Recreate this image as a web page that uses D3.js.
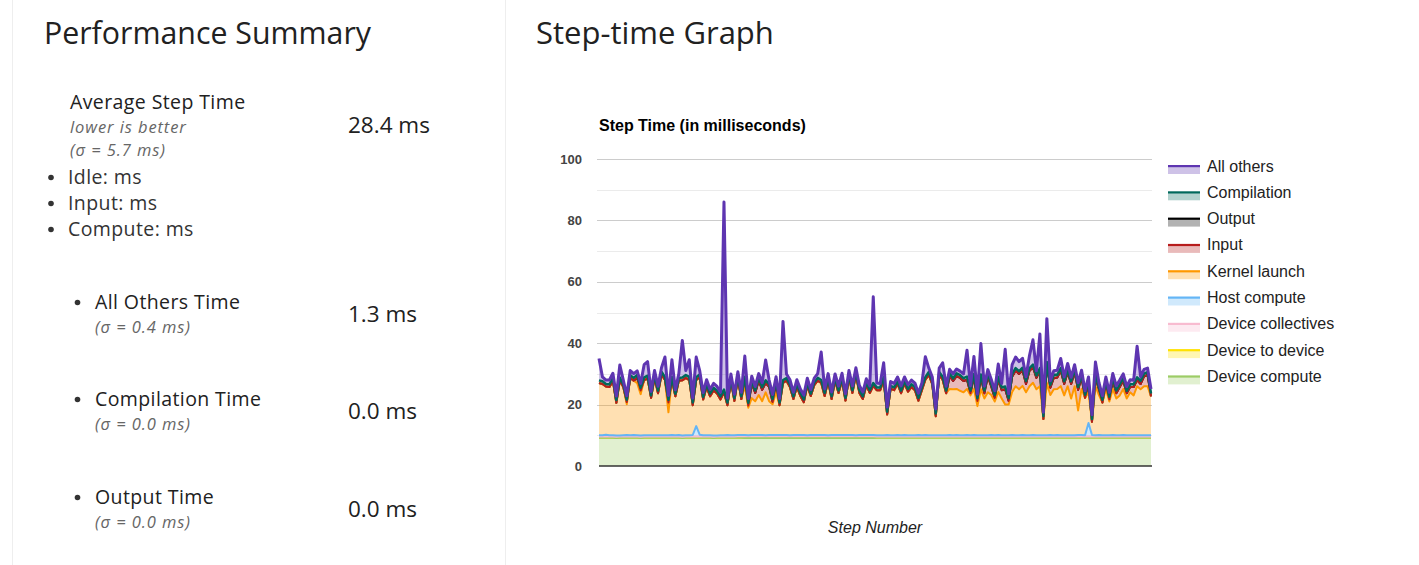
<html>
<head>
<meta charset="UTF-8">
<title>Step-time Graph</title>
<script src="https://d3js.org/d3.v7.min.js"></script>
<style>
html,body{margin:0;padding:0;background:#fff;}
svg{display:block;}
.seg{font-family:"Open Sans","Noto Sans",sans-serif;}
.ar{font-family:"Liberation Sans",Arial,sans-serif;}
</style>
</head>
<body>
<div id="container"></div>
<script>
// ---- data (ms per step) ----
const deviceCompute = [
9.2,9.2,9.3,9.2,9.2,9.1,9.2,9.2,9.3,9.2,9.2,9.2,9.1,9.2,9.2,9.3,9.2,9.2,9.2,9.2,
9.2,9.3,9.2,9.2,9.1,9.2,9.2,9.2,9.2,9.3,9.2,9.2,9.2,9.1,9.2,9.2,9.2,9.3,9.2,9.2,
9.2,9.2,9.1,9.1,9.1,9.2,9.1,9.1,9.1,9.2,9.1,9.1,9.1,9.1,9.2,9.1,9.1,9.1,9.1,9.1,
9.1,9.1,9.2,9.1,9.1,9.1,9.1,9.1,9.2,9.1,9.1,9.1,9.1,9.1,9.1,9.2,9.1,9.1,9.1,9.1,
9.2,9.2,9.2,9.3,9.2,9.2,9.2,9.2,9.3,9.2,9.2,9.2,9.2,9.2,9.3,9.2,9.2,9.2,9.2,9.2,
9.2,9.3,9.2,9.2,9.2,9.2,9.3,9.2,9.2,9.2,9.2,9.2,9.2,9.3,9.2,9.2,9.2,9.2,9.2,9.3,
9.2,9.2,9.2,9.2,9.2,9.3,9.2,9.2,9.2,9.2,9.2,9.2,9.3,9.2,9.2,9.2,9.2,9.2,9.2,9.3,
9.2,9.2,9.2,9.2,9.3,9.2,9.2,9.2,9.2,9.2,9.2,9.3,9.2,9.2,9.2,9.2,9.2,9.2,9.2,9.2];
const deviceToDevice = [
0,0,0,0,0,0,0,0,0,0,0,0,0,0,0,0,0,0,0,0,
0,0,0,0,0,0,0,0,0,0,0,0,0,0,0,0,0,0,0,0,
0,0,0,0,0,0,0,0,0,0,0,0,0,0,0,0,0,0,0,0,
0,0,0,0,0,0,0,0,0,0,0,0,0,0,0,0,0,0,0,0,
0,0,0,0,0,0,0,0,0,0,0,0,0,0,0,0,0,0,0,0,
0,0,0,0,0,0,0,0,0,0,0,0,0,0,0,0,0,0,0,0,
0,0,0,0,0,0,0,0,0,0,0,0,0,0,0,0,0,0,0,0,
0,0,0,0,0,0,0,0,0,0,0,0,0,0,0,0,0,0,0,0];
const deviceCollectives = [
0.4,0.4,0.4,0.4,0.4,0.4,0.4,0.4,0.4,0.4,0.4,0.4,0.4,0.4,0.4,0.4,0.4,0.4,0.4,0.4,
0.4,0.4,0.4,0.4,0.4,0.4,0.4,0.4,0.4,0.4,0.4,0.4,0.4,0.4,0.4,0.4,0.4,0.4,0.4,0.4,
0.5,0.5,0.6,0.6,0.6,0.5,0.6,0.6,0.6,0.5,0.6,0.6,0.6,0.6,0.5,0.6,0.6,0.6,0.6,0.6,
0.6,0.6,0.5,0.6,0.6,0.6,0.6,0.6,0.5,0.6,0.6,0.6,0.6,0.6,0.6,0.5,0.6,0.6,0.6,0.6,
0.4,0.4,0.4,0.4,0.4,0.4,0.4,0.4,0.4,0.4,0.4,0.4,0.4,0.4,0.4,0.4,0.4,0.4,0.4,0.4,
0.4,0.4,0.4,0.4,0.4,0.4,0.4,0.4,0.4,0.4,0.4,0.4,0.4,0.4,0.4,0.4,0.4,0.4,0.4,0.4,
0.4,0.4,0.4,0.4,0.4,0.4,0.4,0.4,0.4,0.4,0.4,0.4,0.4,0.4,0.4,0.4,0.4,0.4,0.4,0.4,
0.4,0.4,0.4,0.4,0.4,0.4,0.4,0.4,0.4,0.4,0.4,0.4,0.4,0.4,0.4,0.4,0.4,0.4,0.4,0.4];
const hostCompute = [
0.4,0.4,0.5,0.4,0.4,0.4,0.3,0.4,0.4,0.4,0.5,0.4,0.4,0.4,0.4,0.3,0.4,0.4,0.4,0.4,
0.4,0.4,0.4,0.5,0.4,0.4,0.4,0.5,3.4,0.5,0.4,0.4,0.4,0.4,0.3,0.4,0.4,0.4,0.4,0.4,
0.4,0.4,0.4,0.3,0.4,0.4,0.4,0.4,0.3,0.4,0.4,0.4,0.4,0.4,0.4,0.3,0.4,0.4,0.4,0.4,
0.3,0.4,0.4,0.4,0.4,0.4,0.3,0.4,0.4,0.4,0.4,0.4,0.4,0.4,0.3,0.4,0.4,0.4,0.4,0.4,
0.4,0.4,0.4,0.4,0.4,0.4,0.5,0.4,0.4,0.4,0.4,0.4,0.5,0.4,0.4,0.4,0.4,0.4,0.4,0.4,
0.4,0.4,0.4,0.5,0.4,0.4,0.4,0.4,0.5,0.4,0.4,0.4,0.4,0.4,0.4,0.5,0.4,0.4,0.4,0.4,
0.4,0.4,0.5,0.4,0.4,0.4,0.4,0.4,0.4,0.4,0.5,0.4,0.4,0.4,0.4,0.4,0.4,0.4,0.5,0.4,
0.4,4.4,0.5,0.4,0.4,0.4,0.4,0.4,0.5,0.4,0.4,0.4,0.4,0.4,0.4,0.4,0.4,0.4,0.4,0.4];
const kernelLaunch = [
17,16.7,15.7,15.7,17.7,10.7,18,15.7,10,18.7,17.7,17,13.5,18,18.5,12.2,18.7,13.7,19.7,18,
7.5,18,12.7,17.7,18,18.7,18,9.7,15,18.7,11.7,15.7,12.7,14.7,13.7,11.7,14,9.7,17.7,11.2,
18.3,11.7,16,9,12,11,13,11,14,11,10,14,9.7,17,17.7,15.7,11.7,15.7,12.7,10.7,
16.2,12.7,16.2,17.7,17,12.7,17.7,11.7,17.7,13.7,17.7,11.2,18.7,13.7,19.7,13.7,11.7,16.2,13.7,16,
14.7,14.7,18,6.7,15.2,14.7,16.7,13.7,16.7,14.2,15.7,14.7,11.2,14.7,18,19.7,16.7,6.2,19.7,18,
13.7,15,15,15,14.5,14,15,13,15,9.5,15,12,14,13,11,14,12,10,10,14,
16,15,16,14,16,17,15,16,5.3,17,13,15,15,16,13,16,12,16,8,15,
12.2,10,4.3,16,13,10.7,15,11,15,12,13,15,12,14,13,16,15,16,16,12.7];
const input = [
0,0,0,0,0,0,0,0,0.7,0,0,1.7,1.2,0,0,0,0,0,0,0,
3.2,0,0,0,0,0,0,0,0,0,0,0,0,0,0,0,0,0,0,0,
0,0,2,0.7,4.7,2.7,4.7,3.7,3,4.7,0.7,2.7,0,0,0,0,0,0,0,0,
0,0,0,0,0,0,0,0,0,0,0,0,0,0,0,0,0,0,0,0,
0,0,0,0,0,0,0,0,0,0,0,0,0,0,0,0,0,0,0,0,
0,4.2,2.7,4.2,4.2,3.7,3,0.7,4,1.7,4,1.7,5.2,2.7,1.2,4,2.7,5,1.2,5,
5,5,5,2.7,5,5,3.7,5,0,6,2.4,3.7,3.7,5,3.7,4.5,4.7,4.5,6.7,3.7,
0,2.7,0,3,1.7,0,1.7,0.7,2.7,1.7,2.7,2.7,1.7,1.7,2.7,2,1.7,3.2,3.7,0];
const output = [
0,0,0,0,0,0,0,0,0,0,0,0,0,0,0,0,0,0,0,0,
0,0,0,0,0,0,0,0,0,0,0,0,0,0,0,0,0,0,0,0,
0,0,0,0,0,0,0,0,0,0,0,0,0,0,0,0,0,0,0,0,
0,0,0,0,0,0,0,0,0,0,0,0,0,0,0,0,0,0,0,0,
0,0,0,0,0,0,0,0,0,0,0,0,0,0,0,0,0,0,0,0,
0,0,0,0,0,0,0,0,0,0,0,0,0,0,0,0,0,0,0,0,
0,0,0,0,0,0,0,0,0,0,0,0,0,0,0,0,0,0,0,0,
0,0,0,0,0,0,0,0,0,0,0,0,0,0,0,0,0,0,0,0];
const compilation = [
0.9,0.9,0.8,0.9,1.0,0.9,0.9,0.9,0.8,0.9,0.9,1.0,0.9,0.9,0.9,0.8,0.9,0.9,1.0,0.9,
0.9,0.9,0.8,0.9,0.9,0.9,1.0,0.9,0.9,0.9,0.8,0.9,0.9,0.9,0.9,1.0,0.9,0.9,0.8,0.9,
0.9,0.9,1.0,0.9,0.9,0.8,0.9,0.9,0.9,0.9,1.0,0.9,0.9,0.9,0.8,0.9,0.9,0.9,1.0,0.9,
0.9,0.8,0.9,0.9,0.9,1.0,0.9,0.9,0.9,0.8,0.9,0.9,0.9,0.9,1.0,0.9,0.9,0.8,0.9,0.9,
0.9,0.9,1.0,0.9,0.9,0.9,0.8,0.9,0.9,0.9,0.9,1.0,0.9,0.9,0.8,0.9,0.9,0.9,0.9,1.0,
0.9,0.9,0.8,0.9,0.9,0.9,1.0,0.9,0.9,0.9,0.8,0.9,0.9,0.9,0.9,1.0,0.9,0.9,0.9,0.8,
0.9,0.9,0.9,1.0,0.9,0.9,0.8,0.9,0.9,0.9,0.9,1.0,0.9,0.9,0.9,0.8,0.9,0.9,0.9,0.9,
1.0,0.9,0.9,0.8,0.9,0.9,0.9,0.9,1.0,0.9,0.9,0.9,0.8,0.9,0.9,0.9,1.0,0.9,0.9,0.9];
const allOthers = [
7.1,1.4,1.3,1.4,1.5,1.3,4.1,1.4,1.3,1.5,1.4,1.3,1.4,4.1,4.6,1.3,1.5,1.4,1.3,6.6,
1.4,5.6,1.3,1.4,12.1,1.5,5.6,1.4,6.6,1.3,1.4,1.5,1.3,1.4,1.4,1.3,61.1,1.4,1.5,1.3,
1.4,1.3,6.7,1.4,1.5,1.3,1.4,1.4,6.6,1.3,1.5,1.4,1.3,19.1,1.4,1.5,1.3,1.4,1.3,1.4,
1.5,1.3,1.4,1.4,9.1,1.3,1.5,1.4,1.3,1.4,1.5,1.3,1.4,1.4,1.3,1.5,1.4,1.3,1.4,28.1,
1.4,1.3,4.6,1.5,1.4,1.3,1.4,1.5,1.3,1.4,1.4,1.3,1.5,1.4,6.7,1.3,1.4,1.5,1.3,4.6,
1.4,1.3,1.5,1.4,1.3,1.4,8.6,1.5,5.7,1.3,10.1,1.4,1.3,1.5,1.4,4.1,1.3,12.1,1.4,3.1,
3.6,3.1,3.1,1.4,4.1,8.1,1.5,11.1,1.3,14.1,1.4,1.3,1.5,3.1,1.4,2.1,1.3,1.6,1.4,1.5,
1.3,1.4,1.4,4.1,1.5,1.3,1.4,1.4,1.3,1.5,1.4,1.3,1.4,1.5,1.3,10.1,1.4,1.4,1.3,1.5];

const seriesNames = ["Device compute","Device to device","Device collectives","Host compute",
  "Kernel launch","Input","Output","Compilation","All others"];
const seriesValues = [deviceCompute,deviceToDevice,deviceCollectives,hostCompute,
  kernelLaunch,input,output,compilation,allOthers];
const seriesColors = ["#9ccc65","#ffe100","#f8bbd0","#64b5f6","#ff9800","#b71c1c","#000000","#00695c","#5e35b1"];
const yTicks = [0,20,40,60,80,100];

const W = 1419, H = 565;
const svg = d3.select("#container").append("svg").attr("width", W).attr("height", H);

// ---- left: Performance Summary ----
svg.append("line").attr("x1",12.5).attr("x2",12.5).attr("y1",0).attr("y2",H).attr("stroke","#eeeeee");
svg.append("line").attr("x1",505.5).attr("x2",505.5).attr("y1",0).attr("y2",H).attr("stroke","#eeeeee");

function txt(x, y, s, size, opts) {
  opts = opts || {};
  return svg.append("text").attr("class","seg").attr("x",x).attr("y",y)
    .attr("font-size",size).attr("fill",opts.fill || "#212121")
    .attr("letter-spacing",opts.ls || null)
    .attr("font-style",opts.italic ? "italic" : null).text(s);
}
function bullet(x, y) {
  svg.append("circle").attr("cx",x).attr("cy",y).attr("r",2.8).attr("fill","#333");
}
const body = 19.5, small = 16.5, big = 22.5;
const note = {italic:true, fill:"#666", ls:0.9};

txt(44, 44, "Performance Summary", 30.3);
txt(70, 109, "Average Step Time", body, {ls:0.4});
txt(70, 132.5, "lower is better", small, note);
txt(70, 155.5, "(σ = 5.7 ms)", small, note);
txt(348, 133, "28.4 ms", big);
[["Idle: ms",184],["Input: ms",210],["Compute: ms",236]].forEach(d => {
  bullet(51, d[1]-6.5); txt(68, d[1], d[0], body, {fill:"#333", ls:0.4});
});
const summaryRows = [["All Others Time","(σ = 0.4 ms)","1.3 ms",309],
  ["Compilation Time","(σ = 0.0 ms)","0.0 ms",406],
  ["Output Time","(σ = 0.0 ms)","0.0 ms",504]];
summaryRows.forEach(r => {
  bullet(77.5, r[3]-6.5);
  txt(95, r[3], r[0], body, {ls:0.4});
  txt(95, r[3]+23.5, r[1], small, note);
  txt(348, r[3]+13, r[2], big);
});

// ---- right: Step-time Graph ----
txt(536, 44, "Step-time Graph", 31);

const N = allOthers.length;
const rows = d3.range(N).map(i => {
  const r = {step: i + 1};
  seriesNames.forEach((n, k) => r[n] = seriesValues[k][i]);
  return r;
});
const stacked = d3.stack().keys(seriesNames)(rows);

const x = d3.scaleLinear().domain([1, N]).range([599, 1151]);
const y = d3.scaleLinear().domain([0, 100]).range([466, 159]);

const g = svg.append("g");
// gridlines
g.selectAll(".minor").data([10,30,50,70,90]).enter().append("line")
  .attr("x1",597).attr("x2",1152).attr("y1",d=>Math.round(y(d))+0.5).attr("y2",d=>Math.round(y(d))+0.5)
  .attr("stroke","#ebebeb");
g.selectAll(".major").data(yTicks.slice(1)).enter().append("line")
  .attr("x1",597).attr("x2",1152).attr("y1",d=>Math.round(y(d))+0.5).attr("y2",d=>Math.round(y(d))+0.5)
  .attr("stroke","#cccccc");

const area = d3.area().x(d => x(d.data.step)).y0(d => y(d[0])).y1(d => y(d[1]));
const line = d3.line().x(d => x(d.data.step)).y(d => y(d[1]));

g.selectAll(".area").data(stacked).enter().append("path")
  .attr("d", area).attr("fill", (d,i) => seriesColors[i]).attr("fill-opacity", 0.3).attr("stroke","none");

// empty series lines first, so the non-empty ones sit over them
const lineOrder = [1, 6, 0, 2, 3, 4, 5, 7, 8];
const lineWidth = {7: 2.5, 8: 3};
g.selectAll(".line").data(lineOrder.map(k => stacked[k])).enter().append("path")
  .attr("d", line).attr("fill","none").attr("stroke", d => seriesColors[d.index])
  .attr("stroke-width", d => lineWidth[d.index] || 2).attr("stroke-linejoin","round");

// baseline
g.append("line").attr("x1",599).attr("x2",1152).attr("y1",y(0)).attr("y2",y(0))
  .attr("stroke","#333").attr("stroke-width",1.5);

// y axis labels
const yAxis = d3.axisLeft(y).tickValues(yTicks).tickSize(0).tickPadding(0);
const ya = svg.append("g").attr("transform","translate(582,0)").call(yAxis);
ya.select(".domain").remove();
ya.selectAll("text").attr("font-size",13).attr("font-weight","bold")
  .attr("fill","#444").attr("font-family","Liberation Sans, Arial, sans-serif");

svg.append("text").attr("class","ar").attr("x",599).attr("y",131)
  .attr("font-size",16).attr("font-weight","bold").attr("fill","#000")
  .text("Step Time (in milliseconds)");
svg.append("text").attr("class","ar").attr("x",875).attr("y",533)
  .attr("text-anchor","middle").attr("font-size",16).attr("font-style","italic")
  .attr("fill","#222").text("Step Number");

// legend
const legendOrder = seriesNames.map((n,i) => i).reverse();
const lg = svg.append("g");
legendOrder.forEach((k, j) => {
  const cy = 166 + j * 26.3;
  lg.append("rect").attr("x",1168).attr("y",cy).attr("width",32).attr("height",8)
    .attr("fill",seriesColors[k]).attr("fill-opacity",0.3);
  lg.append("rect").attr("x",1168).attr("y",cy-1).attr("width",32).attr("height",2.2)
    .attr("fill",seriesColors[k]);
  lg.append("text").attr("class","ar").attr("x",1207).attr("y",cy+5.5)
    .attr("font-size",16).attr("fill","#222").text(seriesNames[k]);
});
</script>
</body>
</html>
